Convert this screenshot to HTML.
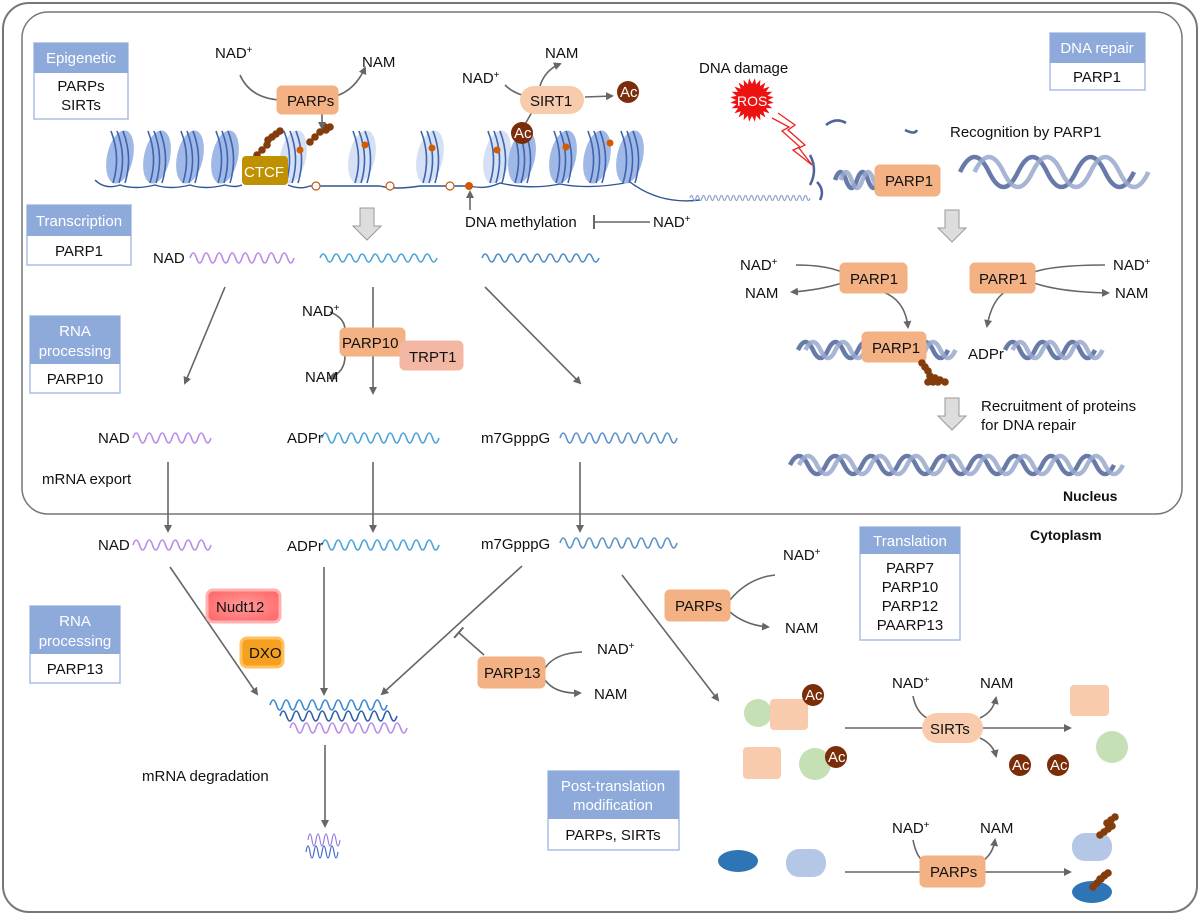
<!DOCTYPE html>
<html><head><meta charset="utf-8"><style>
html,body{margin:0;padding:0;background:#fff}
svg{display:block}
text{font-family:"Liberation Sans",sans-serif;font-size:15px;fill:#111}
.w{fill:#fff}
.b{font-weight:bold}
</style></head><body>
<svg id="s" width="1200" height="915" viewBox="0 0 1200 915" xmlns="http://www.w3.org/2000/svg">
<defs>
<marker id="ah" markerWidth="8" markerHeight="8" refX="6" refY="4" orient="auto" markerUnits="userSpaceOnUse"><path d="M0,0 L8,4 L0,8 z" fill="#666"/></marker>
<marker id="tb" markerWidth="4" markerHeight="14" refX="2" refY="7" orient="auto" markerUnits="userSpaceOnUse"><rect x="0" y="0" width="2" height="14" fill="#666"/></marker>
<radialGradient id="nu" cx="0.5" cy="0.5" r="0.6"><stop offset="0" stop-color="#ff9a9a"/><stop offset="1" stop-color="#ff6a6a"/></radialGradient>
</defs>
<rect x="3" y="3" width="1194" height="909" rx="26" fill="none" stroke="#777" stroke-width="2"/>
<rect x="22" y="12" width="1160" height="502" rx="26" fill="none" stroke="#777" stroke-width="1.5"/>
<g id="dyn"></g>

<g fill="none" stroke="#666" stroke-width="1.6">
<path d="M240,75 Q250,98 280,100"/>
<path d="M336,96 Q355,90 365,68" marker-end="url(#ah)"/>
<path d="M322,114 L322,128" marker-end="url(#ah)"/>
<path d="M505,85 Q512,92 522,95"/>
<path d="M540,86 Q545,70 560,64" marker-end="url(#ah)"/>
<path d="M585,97 L612,96" marker-end="url(#ah)"/>
<path d="M532,112 L524,126"/>
<path d="M650,222 L593,222" marker-end="url(#tb)"/>
<path d="M470,210 L470,192" marker-end="url(#ah)"/>
<path d="M225,287 L185,383" marker-end="url(#ah)"/>
<path d="M373,287 L373,393" marker-end="url(#ah)"/>
<path d="M485,287 L580,383" marker-end="url(#ah)"/>
<path d="M330,312 Q345,318 345,330"/>
<path d="M345,356 Q345,372 330,378" marker-end="url(#ah)"/>
<path d="M168,462 L168,531" marker-end="url(#ah)"/>
<path d="M373,462 L373,531" marker-end="url(#ah)"/>
<path d="M580,462 L580,531" marker-end="url(#ah)"/>
<path d="M170,567 L257,694" marker-end="url(#ah)"/>
<path d="M324,567 L324,694" marker-end="url(#ah)"/>
<path d="M522,566 L382,694" marker-end="url(#ah)"/>
<path d="M484,655 L458,632" marker-end="url(#tb)"/>
<path d="M545,668 Q555,653 582,652"/>
<path d="M545,680 Q555,694 580,693" marker-end="url(#ah)"/>
<path d="M622,575 L718,700" marker-end="url(#ah)"/>
<path d="M325,745 L325,826" marker-end="url(#ah)"/>
<path d="M730,600 Q748,578 775,575"/>
<path d="M730,612 Q745,625 768,627" marker-end="url(#ah)"/>
<path d="M796,265 Q825,265 842,272"/>
<path d="M842,283 Q820,290 792,292" marker-end="url(#ah)"/>
<path d="M883,292 Q905,300 908,327" marker-end="url(#ah)"/>
<path d="M1034,272 Q1055,265 1105,265"/>
<path d="M1034,283 Q1060,292 1108,293" marker-end="url(#ah)"/>
<path d="M1005,292 Q992,300 987,326" marker-end="url(#ah)"/>
<path d="M845,728 L1070,728" marker-end="url(#ah)"/>
<path d="M913,696 Q916,712 927,718"/>
<path d="M980,718 Q993,712 996,698" marker-end="url(#ah)"/>
<path d="M980,738 Q993,744 996,756" marker-end="url(#ah)"/>
<path d="M845,872 L1070,872" marker-end="url(#ah)"/>
<path d="M913,840 Q916,855 922,860"/>
<path d="M984,860 Q993,853 995,840" marker-end="url(#ah)"/>
</g>

<path d="M360,208 L374,208 L374,226 L381,226 L367,240 L353,226 L360,226 z" fill="#ddd" stroke="#999"/>
<path d="M945,210 L959,210 L959,228 L966,228 L952,242 L938,228 L945,228 z" fill="#ddd" stroke="#999"/>
<path d="M945,398 L959,398 L959,416 L966,416 L952,430 L938,416 L945,416 z" fill="#ddd" stroke="#999"/>

<polygon id="ros" fill="#ee1111"/>
<text x="737" y="106" class="w" style="font-size:14px">ROS</text>
<path d="M778,113 L795,125 L788,130 L805,145 L799,148 L812,165 L793,150 L800,147 L782,131 L789,127 L772,118" fill="#fff" stroke="#e22" stroke-width="1.3"/>

<g stroke="#f0b183">
<rect x="277" y="86" width="61" height="28" rx="5" fill="#f4b183"/>
<rect x="340" y="328" width="65" height="28" rx="5" fill="#f4b183"/>
<rect x="400" y="341" width="63" height="29" rx="5" fill="#f2b8a4" stroke="#f2b8a4"/>
<rect x="875" y="165" width="65" height="31" rx="5" fill="#f4b183"/>
<rect x="840" y="263" width="67" height="30" rx="5" fill="#f4b183"/>
<rect x="970" y="263" width="65" height="30" rx="5" fill="#f4b183"/>
<rect x="478" y="657" width="67" height="31" rx="5" fill="#f4b183"/>
<rect x="665" y="590" width="65" height="31" rx="5" fill="#f4b183"/>
<rect x="920" y="856" width="65" height="31" rx="5" fill="#f4b183"/>
</g>
<rect x="520" y="86" width="64" height="28" rx="14" fill="#f8cbad"/>
<rect x="922" y="713" width="61" height="30" rx="15" fill="#f8cbad"/>
<rect x="207" y="590" width="73" height="32" rx="6" fill="url(#nu)" stroke="#ffb0b0" stroke-width="3"/>
<rect x="241" y="638" width="42" height="29" rx="6" fill="#f5a020" stroke="#ffc060" stroke-width="3"/>

<text x="287" y="106">PARPs</text>
<text x="530" y="106">SIRT1</text>
<text x="342" y="348">PARP10</text>
<text x="409" y="362">TRPT1</text>
<text x="885" y="186">PARP1</text>
<text x="850" y="284">PARP1</text>
<text x="979" y="284">PARP1</text>
<text x="484" y="678">PARP13</text>
<text x="675" y="611">PARPs</text>
<text x="930" y="877">PARPs</text>
<text x="930" y="734">SIRTs</text>
<text x="216" y="612">Nudt12</text>
<text x="249" y="658">DXO</text>

<text x="215" y="58">NAD<tspan dy="-5" font-size="10">+</tspan></text>
<text x="362" y="67">NAM</text>
<text x="545" y="58">NAM</text>
<text x="462" y="83">NAD<tspan dy="-5" font-size="10">+</tspan></text>
<text x="699" y="73">DNA damage</text>
<text x="950" y="137">Recognition by PARP1</text>
<text x="465" y="227">DNA methylation</text>
<text x="653" y="227">NAD<tspan dy="-5" font-size="10">+</tspan></text>
<text x="153" y="263">NAD</text>
<text x="302" y="316">NAD<tspan dy="-5" font-size="10">+</tspan></text>
<text x="305" y="382">NAM</text>
<text x="98" y="443">NAD</text>
<text x="287" y="443">ADPr</text>
<text x="481" y="443">m7GpppG</text>
<text x="42" y="484">mRNA export</text>
<text x="98" y="550">NAD</text>
<text x="287" y="551">ADPr</text>
<text x="481" y="549">m7GpppG</text>
<text x="740" y="270">NAD<tspan dy="-5" font-size="10">+</tspan></text>
<text x="745" y="298">NAM</text>
<text x="1113" y="270">NAD<tspan dy="-5" font-size="10">+</tspan></text>
<text x="1115" y="298">NAM</text>
<text x="968" y="359">ADPr</text>
<text x="981" y="411">Recruitment of proteins</text>
<text x="981" y="430">for DNA repair</text>
<text x="1063" y="501" class="b" style="font-size:14px">Nucleus</text>
<text x="1030" y="540" class="b" style="font-size:14px">Cytoplasm</text>
<text x="783" y="560">NAD<tspan dy="-5" font-size="10">+</tspan></text>
<text x="785" y="633">NAM</text>
<text x="597" y="654">NAD<tspan dy="-5" font-size="10">+</tspan></text>
<text x="594" y="699">NAM</text>
<text x="142" y="781">mRNA degradation</text>
<text x="892" y="688">NAD<tspan dy="-5" font-size="10">+</tspan></text>
<text x="980" y="688">NAM</text>
<text x="892" y="833">NAD<tspan dy="-5" font-size="10">+</tspan></text>
<text x="980" y="833">NAM</text>

<g font-size="14">
<rect x="34" y="43" width="94" height="76" fill="#fff" stroke="#a8bde6" stroke-width="1.5"/>
<rect x="34" y="43" width="94" height="30" fill="#8eaadb"/>
<text x="81" y="63" class="w" text-anchor="middle">Epigenetic</text>
<text x="81" y="91" text-anchor="middle">PARPs</text>
<text x="81" y="110" text-anchor="middle">SIRTs</text>

<rect x="1050" y="33" width="95" height="57" fill="#fff" stroke="#a8bde6" stroke-width="1.5"/>
<rect x="1050" y="33" width="95" height="30" fill="#8eaadb"/>
<text x="1097" y="53" class="w" text-anchor="middle">DNA repair</text>
<text x="1097" y="82" text-anchor="middle">PARP1</text>

<rect x="27" y="205" width="104" height="60" fill="#fff" stroke="#a8bde6" stroke-width="1.5"/>
<rect x="27" y="205" width="104" height="31" fill="#8eaadb"/>
<text x="79" y="226" class="w" text-anchor="middle">Transcription</text>
<text x="79" y="256" text-anchor="middle">PARP1</text>

<rect x="30" y="316" width="90" height="77" fill="#fff" stroke="#a8bde6" stroke-width="1.5"/>
<rect x="30" y="316" width="90" height="48" fill="#8eaadb"/>
<text x="75" y="336" class="w" text-anchor="middle">RNA</text>
<text x="75" y="356" class="w" text-anchor="middle">processing</text>
<text x="75" y="384" text-anchor="middle">PARP10</text>

<rect x="30" y="606" width="90" height="77" fill="#fff" stroke="#a8bde6" stroke-width="1.5"/>
<rect x="30" y="606" width="90" height="48" fill="#8eaadb"/>
<text x="75" y="626" class="w" text-anchor="middle">RNA</text>
<text x="75" y="646" class="w" text-anchor="middle">processing</text>
<text x="75" y="674" text-anchor="middle">PARP13</text>

<rect x="860" y="527" width="100" height="113" fill="#fff" stroke="#a8bde6" stroke-width="1.5"/>
<rect x="860" y="527" width="100" height="27" fill="#8eaadb"/>
<text x="910" y="546" class="w" text-anchor="middle">Translation</text>
<text x="910" y="573" text-anchor="middle">PARP7</text>
<text x="910" y="592" text-anchor="middle">PARP10</text>
<text x="910" y="611" text-anchor="middle">PARP12</text>
<text x="910" y="630" text-anchor="middle">PAARP13</text>

<rect x="548" y="771" width="131" height="79" fill="#fff" stroke="#a8bde6" stroke-width="1.5"/>
<rect x="548" y="771" width="131" height="48" fill="#8eaadb"/>
<text x="613" y="791" class="w" text-anchor="middle">Post-translation</text>
<text x="613" y="810" class="w" text-anchor="middle">modification</text>
<text x="613" y="840" text-anchor="middle">PARPs, SIRTs</text>
</g>

<circle cx="758" cy="713" r="14" fill="#c5e0b4"/>
<rect x="770" y="699" width="38" height="31" rx="4" fill="#f8cbad"/>
<rect x="743" y="747" width="38" height="32" rx="4" fill="#f8cbad"/>
<circle cx="815" cy="764" r="16" fill="#c5e0b4"/>
<rect x="1070" y="685" width="39" height="31" rx="4" fill="#f8cbad"/>
<circle cx="1112" cy="747" r="16" fill="#c5e0b4"/>
<ellipse cx="738" cy="861" rx="20" ry="11" fill="#2e75b6"/>
<rect x="786" y="849" width="40" height="28" rx="13" fill="#b4c7e7"/>
<rect x="1072" y="833" width="40" height="28" rx="13" fill="#b4c7e7"/>
<ellipse cx="1092" cy="892" rx="20" ry="11" fill="#2e75b6"/>
<g id="top"></g>
</svg>
<script>
(function(){
var NS="http://www.w3.org/2000/svg",g=document.getElementById('dyn'),tg=document.getElementById('top');
function el(t,a,p){var e=document.createElementNS(NS,t);for(var k in a)e.setAttribute(k,a[k]);(p||g).appendChild(e);return e;}
function wave(x1,x2,y,amp,per,col,w){var d="M"+x1+","+y;for(var x=x1;x<x2;x+=per){d+=" q"+per/4+","+(-amp*2)+" "+per/2+",0 q"+per/4+","+(amp*2)+" "+per/2+",0";}el('path',{d:d,fill:'none',stroke:col,'stroke-width':w||1.6});}
function helix(x1,x2,y,amp,per){for(var s=0;s<2;s++){var d="M"+(x1+s*per*0.25)+","+y;for(var x=x1;x<x2-per*0.3;x+=per){d+=" q"+per/4+","+(-amp*2)+" "+per/2+",0 q"+per/4+","+(amp*2)+" "+per/2+",0";}el('path',{d:d,fill:'none',stroke:s?'#9aa8cc':'#4e6399','stroke-width':4.5,'stroke-opacity':0.85});}}
function ac(x,y){el('circle',{cx:x,cy:y,r:11,fill:'#7b2d0a'},tg);var t=el('text',{x:x-8,y:y+5,'class':'w','font-size':'13'},tg);t.textContent='Ac';}
function chain(x,y,dx,dy,n,p){for(var i=0;i<n;i++){el('circle',{cx:x+dx*i,cy:y+dy*i,r:3.8,fill:'#843c0c'},p);}}
el('path',{d:"M95,180 Q105,190 120,185 Q135,190 155,185 Q170,190 190,185 Q205,190 225,185 Q235,188 242,185 M288,185 Q300,190 310,186 L380,186 Q395,190 420,186 L470,186 Q485,190 500,183 Q530,190 560,184 Q590,190 630,182 Q660,205 700,200",fill:'none',stroke:'#2f5597','stroke-width':1.4});
wave(690,810,198,2.5,6,'#8fa3c8',1.2);
[[120,1],[157,1],[190,1],[225,1],[293,0],[362,0],[430,0],[497,0],[522,1],[563,1],[597,1],[630,1]].forEach(function(n){
 var cx=n[0],cy=157;
 el('ellipse',{cx:cx,cy:cy,rx:13,ry:27,fill:n[1]?'#a0b8e6':'#d5e0f4',transform:'rotate(12 '+cx+' '+cy+')'});
 for(var i=-1;i<=1;i++)el('path',{d:"M"+(cx+i*6-3)+","+(cy-26)+" q10,26 2,52",fill:'none',stroke:'#3d64b0','stroke-width':1.6});
});
chain(252,160,5,-5,4);chain(268,140,4,-3,4);chain(310,142,5,-5,4);chain(326,130,4,-3,2);
el('rect',{x:242,y:156,width:46,height:29,rx:4,fill:'#bf9000'});
var ct=el('text',{x:244,y:177,'class':'w'});ct.textContent='CTCF';
[[300,150],[365,145],[432,148],[497,150],[566,147],[610,143]].forEach(function(p){el('circle',{cx:p[0],cy:p[1],r:3.5,fill:'#d45a00'});});
[[316,186],[390,186],[450,186]].forEach(function(p){el('circle',{cx:p[0],cy:p[1],r:4,fill:'#fff',stroke:'#c55a11','stroke-width':1.2});});
el('circle',{cx:469,cy:186,r:4,fill:'#d45a00'});
ac(522,133);ac(628,92);
wave(190,292,258,5,13,'#b98be8');wave(320,432,258,4,13,'#4aa3d8');wave(482,590,258,4,13,'#4a8cc8');
wave(133,200,438,5,13,'#b98be8');wave(322,432,438,5,13,'#4aa3d8');wave(560,670,438,5,13,'#5a92c8');
wave(133,200,545,5,13,'#b98be8');wave(322,432,545,5,13,'#4aa3d8');wave(560,670,543,5,13,'#5a92c8');
wave(270,378,705,5,13,'#3a8ad0');wave(280,388,716,5,13,'#2f5fa8');wave(290,398,728,5,13,'#b98be8');
wave(308,336,840,6,8,'#9b7de0',1.2);wave(306,332,852,6,8,'#4a6ed0',1.2);
el('path',{d:"M810,185 q8,-15 0,-30 M826,125 q10,-8 20,-2 M905,130 q10,5 12,0 M820,200 q5,-10 -3,-18",fill:'none',stroke:'#4e6399','stroke-width':2.5});
helix(835,875,180,8,22);helix(960,1150,172,15,58);
helix(798,940,350,8,30);helix(1005,1100,350,8,30);helix(790,1112,465,9,36);
el('rect',{x:862,y:332,width:64,height:30,rx:5,fill:'#f4b183',stroke:'#f0b183'});
var t=el('text',{x:872,y:353});t.textContent='PARP1';
chain(922,363,3,4,3);chain(930,376,5,2,4);chain(928,382,5,0,3);
ac(813,695);ac(836,757);ac(1020,765);ac(1058,765);
chain(1100,835,4,-3,4,tg);chain(1107,823,4,-3,3,tg);chain(1093,887,4,-4,4,tg);chain(1100,879,4,-3,3,tg);
var pts=[];for(var i=0;i<48;i++){var r=i%2?22:16,a=i*Math.PI/24;pts.push((752+r*Math.cos(a)).toFixed(1)+","+(100+r*Math.sin(a)).toFixed(1));}
document.getElementById('ros').setAttribute('points',pts.join(' '));
})();
</script>
</body></html>
